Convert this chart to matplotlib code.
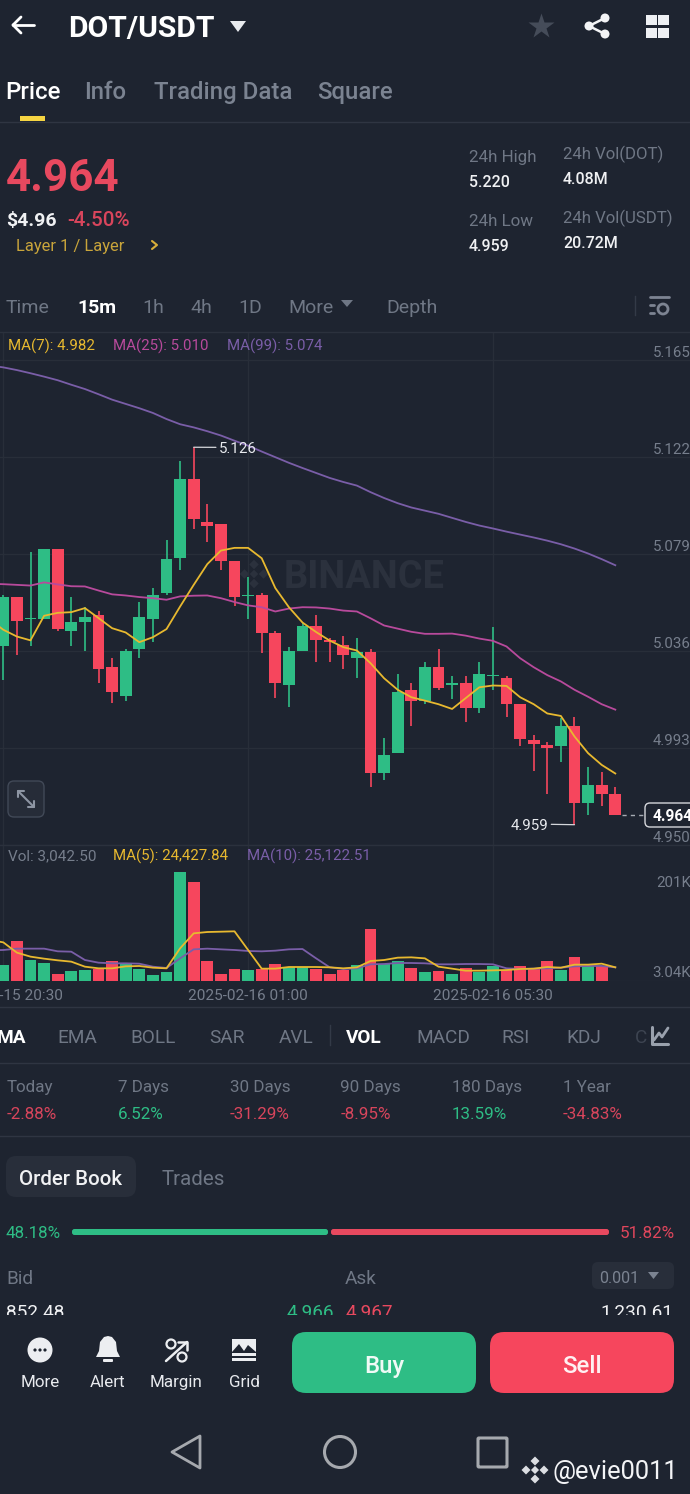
import matplotlib
matplotlib.use("Agg")
import matplotlib.pyplot as plt
from matplotlib.patches import FancyBboxPatch, Rectangle, Circle, Polygon
from matplotlib.lines import Line2D
import numpy as np

# ---------- data ----------
opens = [5.0380,5.0599,5.0500,5.0500,5.0810,5.0450,5.0489,5.0519,5.0289,5.0159,5.0368,5.0500,5.0619,5.0771,5.1121,5.0931,5.0921,5.0761,5.0602,5.0609,5.0439,5.0209,5.0359,5.0469,
         5.0406,5.0387,5.0328,5.0357,4.9817,4.9907,5.0188,5.0137,5.0288,5.0207,5.0217,5.0108,5.0247,5.0238,5.0127,4.9966,4.9945,4.9937,5.0027,4.9686,4.9765,4.9725]
closes = [5.0599,5.0491,5.0506,5.0810,5.0458,5.0488,5.0509,5.0280,5.0179,5.0358,5.0509,5.0609,5.0769,5.1121,5.0943,5.0912,5.0761,5.0600,5.0609,5.0441,5.0218,5.0358,5.0469,5.0410,
          5.0400,5.0340,5.0357,4.9817,4.9897,5.0176,5.0137,5.0288,5.0196,5.0217,5.0108,5.0257,5.0253,5.0127,4.9968,4.9947,4.9928,5.0027,4.9686,4.9765,4.9725,4.9635]
highs = [5.0609,5.0599,5.0800,5.0810,5.0810,5.0599,5.0557,5.0535,5.0328,5.0368,5.0579,5.0639,5.0850,5.1201,5.1263,5.1011,5.0921,5.0761,5.0689,5.0619,5.0450,5.0379,5.0483,5.0519,
         5.0416,5.0427,5.0416,5.0368,4.9975,5.0257,5.0217,5.0309,5.0368,5.0248,5.0248,5.0309,5.0468,5.0248,5.0127,4.9987,4.9957,5.0062,5.0066,4.9847,4.9824,4.9755]
lows = [5.0230,5.0340,5.0380,5.0500,5.0450,5.0380,5.0359,5.0219,5.0129,5.0139,5.0328,5.0399,5.0609,5.0721,5.0901,5.0841,5.0721,5.0560,5.0500,5.0349,5.0150,5.0110,5.0359,5.0309,
        5.0309,5.0279,5.0238,4.9756,4.9786,4.9907,5.0027,5.0127,5.0188,5.0148,5.0047,5.0087,5.0188,5.0066,4.9937,4.9826,4.9727,4.9866,4.9590,4.9635,4.9675,4.9635]
volumes_k = [38.6,90.8,48.7,41.5,19.0,24.8,27.7,28.4,45.8,40.0,29.9,15.4,23.3,239.4,218.4,46.5,18.3,29.1,26.2,29.1,39.3,34.2,32.8,29.9,18.3,26.2,
             37.1,116.1,39.3,46.5,31.3,23.3,24.1,19.0,31.3,21.9,36.4,27.0,35.7,28.4,45.8,26.2,54.5,34.9,34.9,3.04]
# moving averages start one 15-minute step before the first visible candle
ma7 = [5.0500,5.0454,5.0424,5.0407,5.0516,5.0529,5.0532,5.0550,5.0506,5.0461,5.0442,5.0399,5.0421,5.0457,5.0557,5.0653,5.0745,5.0805,5.0817,5.0817,5.0771,5.0639,5.0554,5.0486,5.0444,
       5.0406,5.0377,5.0362,5.0306,5.0239,5.0188,5.0155,5.0140,5.0124,5.0103,5.0151,5.0199,5.0207,5.0205,5.0155,5.0124,5.0083,5.0072,4.9981,4.9907,4.9855,4.9817]
ma25 = [5.0658,5.0656,5.0653,5.0650,5.0664,5.0655,5.0647,5.0646,5.0628,5.0611,5.0606,5.0599,5.0594,5.0587,5.0602,5.0605,5.0606,5.0594,5.0577,5.0562,5.0554,5.0535,5.0548,5.0554,5.0553,
        5.0548,5.0539,5.0535,5.0505,5.0473,5.0459,5.0445,5.0436,5.0436,5.0437,5.0428,5.0415,5.0405,5.0380,5.0328,5.0288,5.0253,5.0225,5.0188,5.0157,5.0124,5.0100]
ma99 = [5.1625,5.1617,5.1605,5.1591,5.1576,5.1560,5.1540,5.1521,5.1498,5.1474,5.1455,5.1436,5.1415,5.1388,5.1365,5.1351,5.1334,5.1315,5.1292,5.1270,5.1244,5.1219,5.1194,5.1171,5.1149,5.1127,
        5.1109,5.1093,5.1064,5.1038,5.1015,5.0996,5.0982,5.0968,5.0950,5.0932,5.0916,5.0903,5.0889,5.0876,5.0863,5.0849,5.0833,5.0814,5.0792,5.0767,5.0740]
vol_ma5 = [92.2,87.1,64.7,56.0,51.6,48.0,45.1,34.2,30.6,30.6,34.9,35.7,32.0,30.6,74.1,106.7,109.6,110.3,111.1,70.5,29.9,29.9,33.5,33.5,33.5,32.8,30.6,
           32.8,46.5,48.7,53.8,54.5,52.3,34.2,29.9,25.5,25.5,26.2,26.9,29.1,29.9,33.5,32.0,38.6,38.6,40.7,32.8]
vol_ma10 = [69.7,70.5,73.4,73.4,73.4,67.6,66.8,48.7,42.9,41.5,41.5,40.7,34.2,31.3,52.3,71.9,73.4,71.9,70.5,68.3,67.6,69.0,71.9,72.6,52.3,32.8,29.1,
            30.6,39.3,40.0,42.2,42.2,41.5,39.3,39.3,40.0,40.0,39.3,30.6,29.1,29.9,30.6,32.0,34.9,35.7,35.7,32.8]
price_ticks = [5.165,5.122,5.079,5.036,4.993,4.950]
price_tick_labels = ["5.165","5.122","5.079","5.036","4.993","4.950"]
vol_ticks = [201.0,3.04]
vol_tick_labels = ["201K","3.04K"]
date_positions = [0,18,36]
date_labels = ["2025-02-15 20:30","2025-02-16 01:00","2025-02-16 05:30"]
tabs = ["Price","Info","Trading Data","Square"]
intervals = ["Time","15m","1h","4h","1D","More","Depth"]
indicators = ["MA","EMA","BOLL","SAR","AVL","VOL","MACD","RSI","KDJ","C"]
period_names = ["Today","7 Days","30 Days","90 Days","180 Days","1 Year"]
period_changes = ["-2.88%","6.52%","-31.29%","-8.95%","13.59%","-34.83%"]

# ---------- style ----------
BG="#1e2430"; GREEN="#2ebd85"; RED="#f6465d"; GRID="#282e39"; GREY="#7b8391"
YEL="#e8b92f"; MAG="#b84a9c"; PUR="#7a5ea8"
plt.rcParams['font.family']=['Roboto','Noto Sans','DejaVu Sans']
W,H=690,1494
fig=plt.figure(figsize=(W/100,H/100),dpi=100,facecolor=BG)
def place(y0,y1):
    a=fig.add_axes([0,1-y1/H,1,(y1-y0)/H]); a.patch.set_alpha(0)
    for s in a.spines.values(): s.set_visible(False)
    return a
px=lambda p:p*0.72

bgax=place(0,H); bgax.set_xlim(0,W); bgax.set_ylim(H,0); bgax.axis('off'); bgax.set_zorder(0)
ax=place(332,845); ax.set_zorder(1)
vax=place(845,981); vax.set_zorder(1)
ui=place(0,H); ui.set_xlim(0,W); ui.set_ylim(H,0); ui.axis('off'); ui.set_zorder(2)

# ---------- price panel ----------
x=np.arange(len(opens)); xm=np.arange(-1,len(opens))
xlim=(-3.3/13.6,(690-3.3)/13.6)
ax.set_xlim(*xlim); ax.set_ylim(4.95012,5.17738)
ax.set_yticks(price_ticks); ax.set_xticks(date_positions)
ax.grid(True,color=GRID,lw=1.0); ax.set_axisbelow(True)
ax.tick_params(length=0,labelleft=False,labelbottom=False)
cols=[GREEN if c>=o else RED for o,c in zip(opens,closes)]
ax.vlines(x,lows,highs,colors=cols,lw=1.2,zorder=2)
heights=[max(abs(c-o),0.0007) for o,c in zip(opens,closes)]
ax.bar(x,heights,bottom=[min(o,c) for o,c in zip(opens,closes)],width=0.88,color=cols,lw=0,zorder=3)
ax.plot(xm,ma99,color=PUR,lw=1.3,zorder=4)
ax.plot(xm,ma25,color=MAG,lw=1.3,zorder=4)
ax.plot(xm,ma7,color=YEL,lw=1.3,zorder=5)
for v,l in zip(price_ticks,price_tick_labels):
    ax.annotate(l,(653/W,v),xycoords=ax.get_yaxis_transform(),xytext=(0,px(6.8)),textcoords='offset points',
                ha='left',va='center',color="#767e8c",fontsize=px(15),annotation_clip=False)
ihi=int(np.argmax(highs)); ilo=int(np.argmin(lows))
ax.annotate(f"{highs[ihi]:.3f}",(ihi,highs[ihi]),xytext=(px(25),px(-1.5)),textcoords='offset points',color="#e8eaee",
            fontsize=px(15),va='center',ha='left',arrowprops=dict(arrowstyle='-',color="#d5d7db",lw=0.9,shrinkA=0,shrinkB=0,relpos=(0,0.6)),zorder=6)
ax.annotate(f"{lows[ilo]:.3f}",(ilo,lows[ilo]),xytext=(px(-26),px(-1)),textcoords='offset points',color="#e8eaee",
            fontsize=px(15),va='center',ha='right',arrowprops=dict(arrowstyle='-',color="#d5d7db",lw=0.9,shrinkA=0,shrinkB=0,relpos=(1,0.6)),zorder=6)

# ---------- volume panel ----------
vax.set_xlim(*xlim); vax.set_ylim(3.04,3.04+136*2.175)
vax.set_xticks(date_positions); vax.set_yticks([3.04])
vax.grid(True,color=GRID,lw=1.0); vax.set_axisbelow(True)
vax.tick_params(length=0,labelleft=False,labelbottom=False)
vax.bar(x,[v-3.04 for v in volumes_k],bottom=3.04,width=0.88,color=cols,lw=0,zorder=3)
vax.plot(xm,vol_ma10,color=PUR,lw=1.3,zorder=4)
vax.plot(xm,vol_ma5,color=YEL,lw=1.3,zorder=5)
for v,l,xp,off in zip(vol_ticks,vol_tick_labels,[656,652],[6.8,7.8]):
    vax.annotate(l,(xp/W,v),xycoords=vax.get_yaxis_transform(),xytext=(0,px(off)),textcoords='offset points',
                 ha='left',va='center',color="#767e8c",fontsize=px(15),annotation_clip=False)

# ---------- helpers ----------
def T(xp,yp,s,size,color="#7b8391",weight='normal',ha='left',a=ui,**k):
    return a.text(xp,yp+size*0.08,s,fontsize=px(size),color=color,fontweight=weight,ha=ha,va='center',**k)
def HL(y,c="#2f3542",x0=0,x1=W,lw=1.0):
    ui.add_line(Line2D([x0,x1],[y,y],color=c,lw=lw))
def RR(x0,y0,x1,y1,r,c,a=ui,**k):
    a.add_patch(FancyBboxPatch((x0+r,y0+r),x1-x0-2*r,y1-y0-2*r,boxstyle=f"round,pad={r}",fc=c,ec='none',**k))
def PL(points,c,a=ui,**k):
    a.add_patch(Polygon(points,closed=True,fc=c,ec='none',**k))
def L(xs,ys,c="#ffffff",lw=1.5,**k):
    ui.add_line(Line2D(xs,ys,color=c,lw=lw,solid_capstyle='round',solid_joinstyle='round',**k))
def diamond(cx,cy,s,c,a):
    # Binance-style mark: four small diamonds around a centre one
    for dx,dy,r in [(0,-s,.5*s),(0,s,.5*s),(-s,0,.5*s),(s,0,.5*s),(0,0,.45*s)]:
        PL([(cx+dx,cy+dy-r),(cx+dx+r,cy+dy),(cx+dx,cy+dy+r),(cx+dx-r,cy+dy)],c,a=a)

for p,l in zip(date_positions,date_labels):
    T(3.3+13.6*p,995,l,15.4,"#767e8c",ha='center')

# ---------- watermark ----------
T(284,574,"BINANCE",38,"#2b313d",'bold',a=bgax)
diamond(254,574,9.5,"#2b313d",bgax)

# ---------- header ----------
L([13,34],[25,25],lw=2.0); L([13,21,],[25,17],lw=2.0); L([13,21],[25,33],lw=2.0)
T(68,27,"DOT/USDT",30,"#ffffff",'bold')
PL([(230,21),(246,21),(238,32)],"#e8eaee")
ui.plot([541],[26],marker='*',ms=19,color="#454c59",mec='none')
ui.add_patch(Circle((605,18),4.5,fc="#f3f4f6")); ui.add_patch(Circle((605,34),4.5,fc="#f3f4f6")); ui.add_patch(Circle((589,26),4.5,fc="#f3f4f6"))
L([589,605],[26,18],"#f3f4f6",1.8); L([589,605],[26,34],"#f3f4f6",1.8)
for gx,gy in [(646,15),(658,15),(646,28),(658,28)]:
    ui.add_patch(Rectangle((gx,gy),11,10,fc="#eef0f3",ec='none'))
for s,xp,c in zip(tabs,[5,84,154,317],["#ffffff",GREY,GREY,GREY]):
    T(xp,91,s,24,c,'medium')
ui.add_patch(Rectangle((20,116),25,5,fc="#f5d442",ec='none'))
HL(121.5)
T(6,175,"4.964",44,"#e8495f",'bold')
T(6,219,"$4.96",19.5,"#f0f1f3",'bold')
T(67,219,"-4.50%",20.5,"#d8455c",'medium')
T(16,245,"Layer 1 / Layer",16.5,"#c9a53b")
L([152,157,152],[241,245,249],"#d8ae3a",1.5)
T(469,156,"24h High",17,"#6f7785"); T(469,181,"5.220",16,"#f0f1f3",'medium')
T(469,220,"24h Low",17,"#6f7785"); T(469,245,"4.959",16,"#f0f1f3",'medium')
T(563,153,"24h Vol(DOT)",16.7,"#6f7785"); T(563,178,"4.08M",16,"#f0f1f3",'medium')
T(563,217,"24h Vol(USDT)",16.7,"#6f7785"); T(563,242,"20.72M",16,"#f0f1f3",'medium')
for s,xp in zip(intervals,[6,77,142,190,238,288,386]):
    on=s=="15m"
    T(xp,306,s,19.5,"#ffffff" if on else "#6f7785",'bold' if on else 'normal')
PL([(341,300),(353,300),(347,307)],"#6f7785")
ui.add_line(Line2D([635,635],[296,315],color="#333a47",lw=1))
L([650,669],[297,297],"#7d8492",2); L([650,654],[305,305],"#7d8492",2); L([650,654],[313,313],"#7d8492",2)
ui.add_patch(Circle((663,309),5,fc='none',ec="#7d8492",lw=2))
HL(331.5,"#2b313d")

# ---------- chart legends, price tag ----------
T(8,345,"MA(7): 4.982",15,YEL); T(113,345,"MA(25): 5.010",15,MAG); T(227,345,"MA(99): 5.074",15,PUR)
T(8,855,"Vol: 3,042.50",15.2,"#767e8c"); T(113,855,"MA(5): 24,427.84",15,YEL); T(247,855,"MA(10): 25,122.51",15,PUR)
HL(845,"#2b313d")
HL(1006.5,"#2f3542")
RR(8,781,44,817,6,"#262c38")
ui.add_patch(FancyBboxPatch((14,787),24,24,boxstyle="round,pad=6",fc='none',ec="#414957",lw=1))
L([18,34],[791,807],"#8d95a3",1.5); L([18,18,24],[797,791,791],"#8d95a3",1.5); L([28,34,34],[807,807,801],"#8d95a3",1.5)
ui.add_line(Line2D([622,644],[814.7,814.7],color="#a6abb3",lw=1,ls=(0,(3,3))))
ui.add_patch(FancyBboxPatch((650,808),60,14,boxstyle="round,pad=5",fc=BG,ec="#d5d7db",lw=1,clip_on=True))
T(653,815,"4.964",15.5,"#ffffff",'bold')

# ---------- indicator tabs ----------
for s,xp in zip(indicators,[-3,57,130,209,279,346,416,501,566,635]):
    on=s in("MA","VOL")
    T(xp,1036,s,19,"#ffffff" if on else ("#3d4451" if s=="C" else "#6f7785"),'bold' if on else 'normal')
ui.add_line(Line2D([330,330],[1025,1045],color="#333a47",lw=1))
L([652,652,668],[1027,1044,1044],"#9aa1ad",2.2); L([654,659,662,668],[1040,1033,1037,1028],"#9aa1ad",2)
HL(1063)
for s,c,xp in zip(period_names,period_changes,[7,118,229.5,340.5,452,563]):
    T(xp,1086,s,17,"#6f7785")
    T(xp,1113,c,17,GREEN if not c.startswith('-') else "#d8455c")
HL(1136)

# ---------- order book ----------
RR(6,1156,136,1197,10,"#282e3a")
T(19,1178,"Order Book",20.5,"#f0f1f3",'medium'); T(162,1178,"Trades",20.5,"#6f7785")
T(6,1232,"48.18%",17,GREEN); T(620,1232,"51.82%",17,"#e0465c")
RR(72,1229,328,1235,2.5,GREEN); RR(331,1229,609,1235,2.5,"#e8495f")
T(6,1277,"Bid",19,"#6f7785"); T(345,1277,"Ask",19,"#6f7785")
RR(592,1262,674,1289,6,"#282e3a"); T(599,1277,"0.001",16,"#7b8391")
PL([(648,1272),(659,1272),(653.5,1279)],"#7b8391")
row_clip=Rectangle((0,1290),W,25,transform=ui.transData)
for xp,s,c,ha in [(6,"852.48","#f0f1f3",'left'),(334,"4.966",GREEN,'right'),(346,"4.967","#e8495f",'left'),(673,"1,230.61","#f0f1f3",'right')]:
    t=T(xp,1311,s,19,c,ha=ha)
    t.set_clip_path(row_clip); t.set_clip_on(True)

# ---------- bottom bar ----------
ui.add_patch(Circle((40,1350),12.5,fc="#eceef1"))
for dx in (-5,0,5): ui.add_patch(Circle((40+dx,1350),1.6,fc=BG))
PL([(96,1357),(99,1351),(100,1342),(104,1337),(108,1336),(112,1337),(116,1342),(117,1351),(120,1357)],"#eceef1")
RR(103,1359,113,1362,1,"#eceef1")
ui.add_patch(Circle((171,1344),4.5,fc='none',ec="#eceef1",lw=1.6)); ui.add_patch(Circle((182,1357),4.5,fc='none',ec="#eceef1",lw=1.6))
L([166,187],[1361,1342],"#eceef1",1.8); L([178,187,187],[1342,1342,1350],"#eceef1",1.8)
PL([(232,1352),(232,1339),(256,1339),(256,1352),(248,1345),(244,1351),(239,1344)],"#eceef1")
ui.add_patch(Rectangle((232,1352.5),24,3,fc="#eceef1")); ui.add_patch(Rectangle((232,1358),24,3,fc="#eceef1"))
for s,xp in zip(["More","Alert","Margin","Grid"],[40,108,176,244]):
    T(xp,1381,s,17,"#e8eaee",ha='center')
RR(292,1332,476,1393,14,GREEN); RR(490,1332,674,1393,14,RED)
T(384,1365,"Buy",24,"#f0faf6",'medium',ha='center'); T(582,1365,"Sell",24,"#fff0f2",'medium',ha='center')
ui.add_patch(Polygon([(172,1452),(200,1436),(200,1468)],closed=True,fc='none',ec="#a6a9ae",lw=2,joinstyle='round'))
ui.add_patch(Circle((340,1452),15.5,fc='none',ec="#a6a9ae",lw=2.2))
ui.add_patch(FancyBboxPatch((479,1439),27,27,boxstyle="round,pad=1",fc='none',ec="#a6a9ae",lw=2.2))
diamond(535,1470,9,"#dcdee2",ui)
T(553,1470,"@evie0011",25.5,"#f3f4f6")

fig.savefig("out.png",dpi=100,facecolor=BG)
